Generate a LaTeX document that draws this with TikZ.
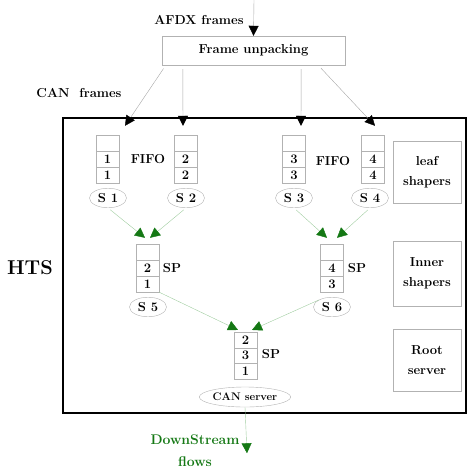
\documentclass[tikz,border=0pt]{standalone}
\usepackage{tikz}
\usetikzlibrary{positioning,arrows.meta,shapes.geometric}
\definecolor{flowgreen}{RGB}{20,120,20}
\definecolor{linkgreen}{RGB}{160,205,160}
\begin{document}
\begin{tikzpicture}[x=1pt,y=-1pt]
                \tikzstyle{every node}+=[inner sep=0pt,font=\fontsize{13}{14}\selectfont\bfseries]
                \tikzstyle{cell}=[draw=gray!60,minimum width=23pt,minimum height=16pt,font=\fontsize{13}{13}\selectfont\bfseries]
                \tikzstyle{shaper}=[draw=gray!60,ellipse,minimum width=37pt,minimum height=19.5pt,font=\fontsize{13}{13}\selectfont\bfseries]
                \tikzstyle{legend}=[draw=gray!60,minimum width=68pt,minimum height=62pt,align=center,font=\fontsize{13}{20}\selectfont\bfseries]
                \tikzstyle{feed}=[draw=gray!70,-{Triangle[length=10pt,width=10pt,color=black]}]
                \tikzstyle{merge}=[draw=linkgreen,-{Triangle[length=10pt,width=10pt,color=flowgreen]}]
                \useasboundingbox (0,0) rectangle (474,475);
                % input side
                \node [draw=gray!60,minimum width=183pt,minimum height=29pt] (unpack) at (253.5,50.5) {Frame unpacking};
                \coordinate (afdxin) at (254,0);
                \node (afdx) at (199,20) {AFDX frames};
                \node (can) at (79,93) {CAN\ \ frames};
                \node [font=\fontsize{20}{22}\selectfont\bfseries] (hts) at (30,268) {HTS};
                \node [draw,line width=2.5pt,minimum width=403pt,minimum height=295pt] (htsbox) at (264.5,265.5) {};
                % leaf FIFOs
                \node [cell] (f1a) at (107.5,143) {};
                \node [cell,below=-0.4pt of f1a] (f1b) {1};
                \node [cell,below=-0.4pt of f1b] (f1c) {1};
                \node [cell] (f2a) at (185.5,143) {};
                \node [cell,below=-0.4pt of f2a] (f2b) {2};
                \node [cell,below=-0.4pt of f2b] (f2c) {2};
                \node [cell] (f3a) at (294,143) {};
                \node [cell,below=-0.4pt of f3a] (f3b) {3};
                \node [cell,below=-0.4pt of f3b] (f3c) {3};
                \node [cell] (f4a) at (373,143) {};
                \node [cell,below=-0.4pt of f4a] (f4b) {4};
                \node [cell,below=-0.4pt of f4b] (f4c) {4};
                \node (fifol) at (148,159) {FIFO};
                \node (fifor) at (333,161) {FIFO};
                \node [shaper] (s1) at (108,198) {S 1};
                \node [shaper] (s2) at (186,198) {S 2};
                \node [shaper] (s3) at (294,198) {S 3};
                \node [shaper] (s4) at (370,198) {S 4};
                % inner shapers
                \node [cell] (i5a) at (147.5,252) {};
                \node [cell,below=-0.4pt of i5a] (i5b) {2};
                \node [cell,below=-0.4pt of i5b] (i5c) {1};
                \node [cell] (i6a) at (332,252) {};
                \node [cell,below=-0.4pt of i6a] (i6b) {4};
                \node [cell,below=-0.4pt of i6b] (i6c) {3};
                \node (spl) at (172,268) {SP};
                \node (spr) at (357,268) {SP};
                \node [shaper] (s5) at (148,307) {S 5};
                \node [shaper] (s6) at (332,307) {S 6};
                % root server
                \node [cell,minimum height=15.7pt] (ra) at (245.5,340) {2};
                \node [cell,minimum height=15.7pt,below=-0.4pt of ra] (rb) {3};
                \node [cell,minimum height=15.7pt,below=-0.4pt of rb] (rc) {1};
                \node (sproot) at (271,354) {SP};
                \node [shaper,minimum width=76pt,minimum height=20pt,font=\fontsize{11}{12}\selectfont\bfseries] (canserver) at (245,397) {CAN server};
                \node [text=flowgreen,align=center,font=\fontsize{14}{22}\selectfont\bfseries] (down) at (195,451) {DownStream\\flows};
                % level boxes
                \node [legend] (leaf) at (427,172.5) {leaf\\shapers};
                \node [legend,minimum height=65pt] (inner) at (427,273.5) {Inner\\shapers};
                \node [legend] (rootsrv) at (427,360) {Root\\server};
                % connectors
                \draw [feed] (afdxin) -- (unpack.north);
                \draw [feed,shorten <=4pt] ([xshift=4pt]unpack.south west) -- ([xshift=17.5pt,yshift=9pt]f1a.north);
                \draw [feed,shorten <=4pt] ([xshift=21pt]unpack.south west) -- ([xshift=-2.5pt,yshift=9pt]f2a.north);
                \draw [feed,shorten <=4pt] ([xshift=-44pt]unpack.south east) -- ([xshift=7pt,yshift=9pt]f3a.north);
                \draw [feed,shorten <=4pt] ([xshift=-27pt]unpack.south east) -- ([xshift=2pt,yshift=9pt]f4a.north);
                \draw [merge,shorten <=3pt] (s1.south) -- ([xshift=-2.5pt,yshift=6pt]i5a.north);
                \draw [merge,shorten <=3pt] (s2.south) -- ([xshift=2.5pt,yshift=6pt]i5a.north);
                \draw [merge,shorten <=3pt] (s3.south) -- ([xshift=-5pt,yshift=6pt]i6a.north);
                \draw [merge,shorten <=3pt] (s4.south) -- ([xshift=5pt,yshift=6pt]i6a.north);
                \draw [merge] (i5c.south east) -- ([xshift=-7.5pt,yshift=2pt]ra.north);
                \draw [merge] (s6.north west) -- ([xshift=6.5pt,yshift=2pt]ra.north);
                \draw [merge] (canserver.south) -- ([xshift=2pt,yshift=-46pt]canserver.south);
\end{tikzpicture}
\end{document}
